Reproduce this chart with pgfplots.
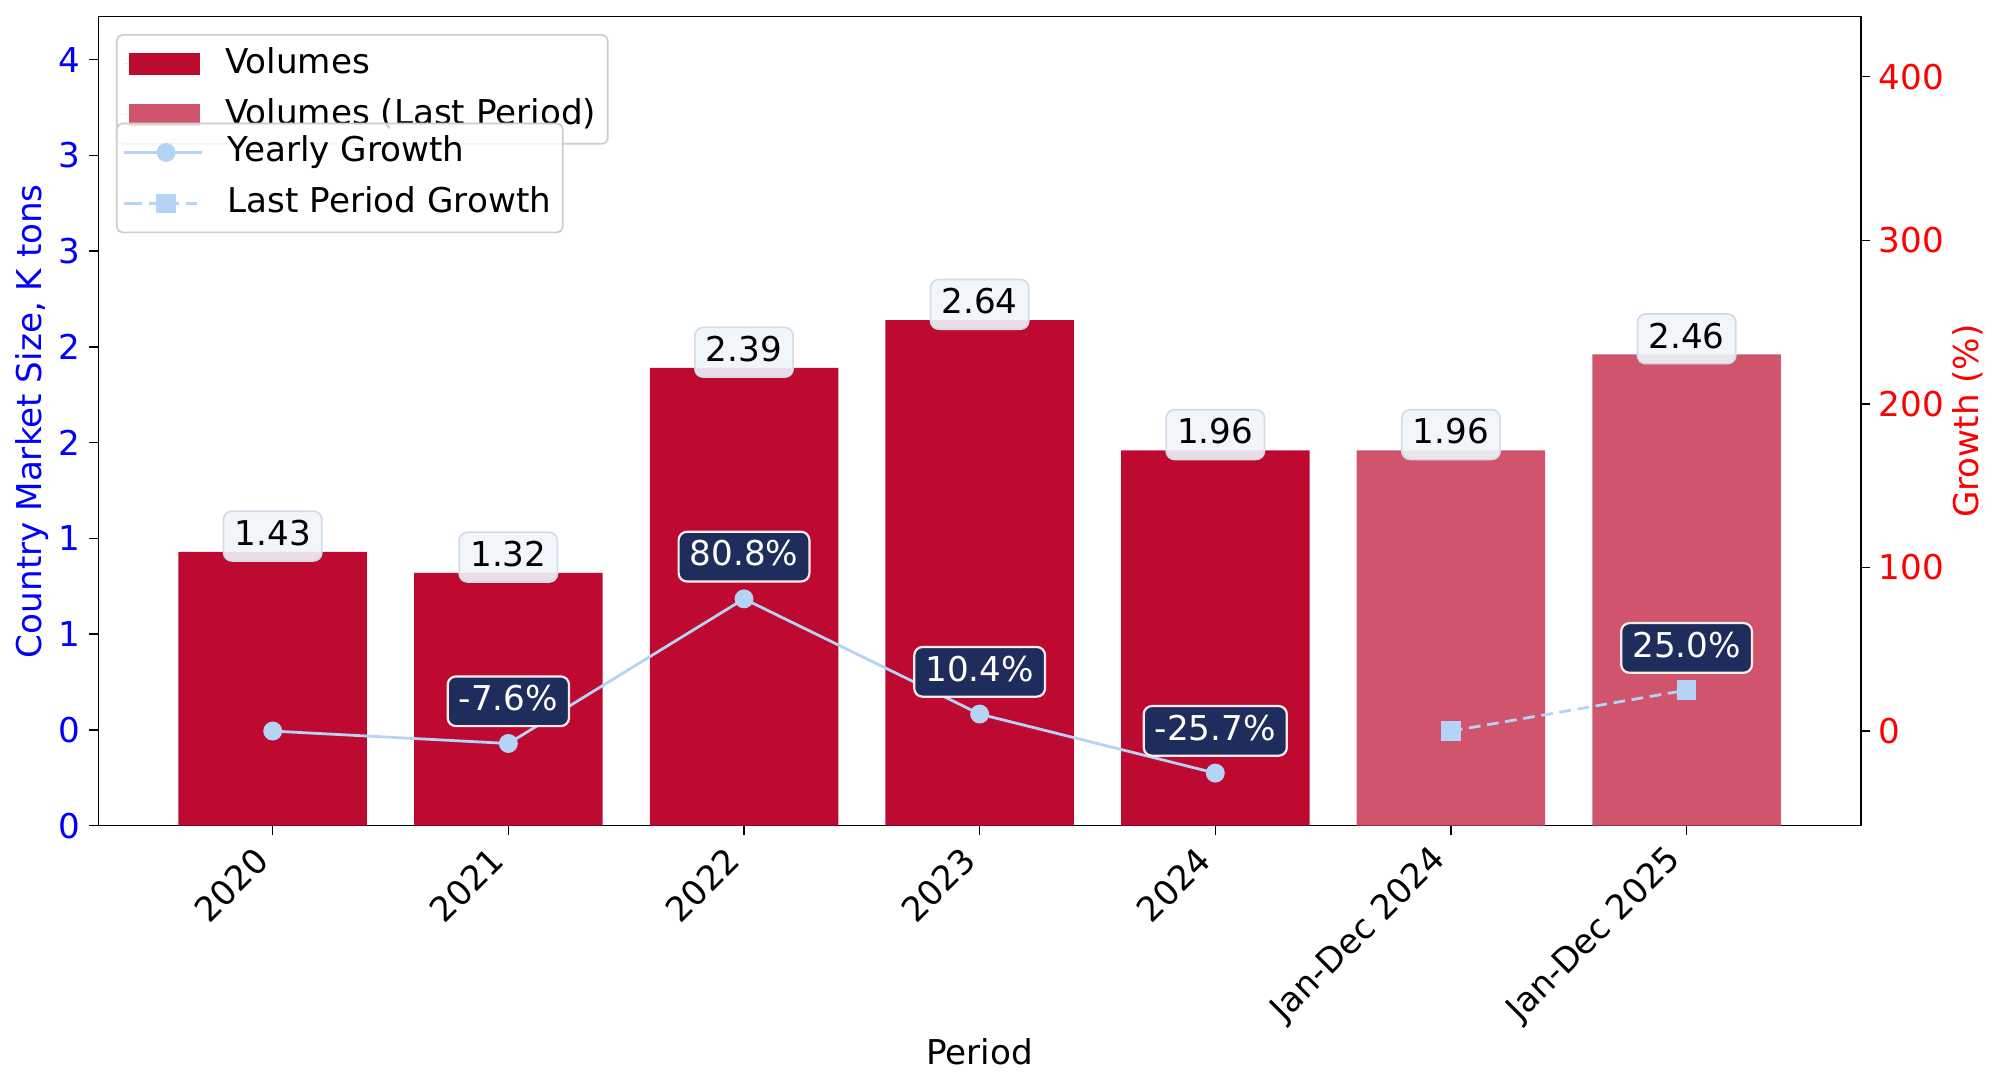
\documentclass[border=0pt]{standalone}
\usepackage{pgfplots}
\pgfplotsset{compat=1.18}
\usepackage{fontspec}
\setmainfont{DejaVu Sans}
\definecolor{vol}{RGB}{190,10,48}
\definecolor{volp}{RGB}{208,84,108}
\definecolor{gline}{RGB}{181,211,245}
\definecolor{navy}{RGB}{31,45,92}
\definecolor{lblfill}{RGB}{239,245,251}
\definecolor{lbldraw}{RGB}{210,220,232}
\newcommand{\fs}{\fontsize{12.3}{14.5}\selectfont}
\tikzset{
  vlabel/.style={anchor=south, yshift=-3.6pt, fill=lblfill, draw=lbldraw, line width=0.6pt, rounded corners=3pt,
    fill opacity=0.9, text opacity=1, text=black, inner xsep=4pt, inner ysep=3.3pt, text height=9pt, text depth=2.3pt, font=\fs},
  glabel/.style={yshift=15.2pt, fill=navy, draw=white!92!red, line width=0.8pt, rounded corners=3pt,
    text=white, inner xsep=4pt, inner ysep=3.3pt, text height=9pt, text depth=2.3pt, font=\fs},
}
\begin{document}
\begin{tikzpicture}[font=\fs]
\useasboundingbox (-35.4pt,-94.1pt) rectangle (686pt,297.2pt);
\pgfplotsset{
  base/.style={
    scale only axis, width=634.5pt, height=291.2pt, at={(0,0)}, anchor=south west,
    xmin=-0.74, xmax=6.74,
    tick align=outside, major tick length=3.2pt,
    axis line style={line width=0.55pt},
    every tick/.style={line width=0.55pt, black},
    /pgf/number format/assume math mode=true,
    tick label style={font=\fs},
    label style={font=\fs},
    legend cell align=left,
    legend style={draw=black!20, line width=0.6pt, rounded corners=2pt, fill=white, fill opacity=0.8, text opacity=1,
      font=\fs, inner xsep=2.2pt, inner ysep=2.8pt, row sep=3pt,
      nodes={text height=9pt, text depth=2.3pt},
      /tikz/every odd column/.append style={column sep=7pt}},
  },
  barleg/.style={legend image code/.code={\path (0pt,0pt) -- (2.3pt,0pt); \fill[sharp corners, ##1, fill opacity=1] (2.3pt,-4pt) rectangle (27.8pt,4pt);}},
  lineleg/.style={legend image code/.code={\path (0pt,0pt) -- (2.3pt,0pt); \draw[sharp corners, mark repeat=2, mark phase=2, ##1, opacity=1, fill opacity=1] plot coordinates {(2.3pt,0pt) (15.05pt,0pt) (27.8pt,0pt)};}},
}
\begin{axis}[base,
  ymin=0, ymax=4.224,
  ytick={0,0.5,1,1.5,2,2.5,3,3.5,4}, yticklabels={0,0,1,1,2,2,3,3,4},
  ytick pos=left, xtick pos=bottom,
  xtick={0,1,2,3,4,5,6}, xticklabels={2020,2021,2022,2023,2024,Jan-Dec 2024,Jan-Dec 2025},
  xticklabel style={xshift=-3.8pt, yshift=-7pt, rotate=45, anchor=east, inner sep=0pt},
  yticklabel style={text=blue, inner sep=3pt},
  ylabel={Country Market Size, K tons},
  ylabel style={text=blue, at={(axis description cs:-0.0375,0.5)}, anchor=center},
  xlabel={Period},
  xlabel style={at={(axis description cs:0.5,-0.2795)}, anchor=center},
  legend style={at={(axis description cs:0.010,0.9785)}, anchor=north west},
  nodes near coords,
  nodes near coords style={vlabel, /pgf/number format/fixed, /pgf/number format/precision=2, /pgf/number format/fixed zerofill},
]
\addplot[ybar, bar width=0.8, bar shift=0pt, fill=vol, draw=none, barleg] coordinates {(0,1.43) (1,1.32) (2,2.39) (3,2.64) (4,1.96)};
\addplot[ybar, bar width=0.8, bar shift=0pt, fill=volp, draw=none, barleg] coordinates {(5,1.96) (6,2.46)};
\legend{Volumes, Volumes (Last Period)}
\end{axis}
\begin{axis}[base,
  ymin=-57.8, ymax=436.7,
  axis x line=none, axis y line*=right,
  tick align=outside,
  ytick={0,100,200,300,400},
  yticklabel style={text=red, inner sep=3pt},
  ylabel={Growth (\%)},
  ylabel style={text=red, at={(axis description cs:1.0607,0.5)}, anchor=center},
  legend style={at={(axis description cs:0.010,0.869)}, anchor=north west},
]
\addplot[gline, line width=1pt, mark=*, mark size=2.9pt, mark options={fill=gline, draw=gline}, lineleg]
  coordinates {(0,0) (1,-7.6) (2,80.8) (3,10.4) (4,-25.7)};
\addplot[gline, line width=1pt, dash pattern=on 4.2pt off 2.4pt, mark=square*, mark size=3pt, mark options={solid, fill=gline, draw=gline}, lineleg]
  coordinates {(5,0) (6,25)};
\legend{Yearly Growth, Last Period Growth}
\node[glabel] at (axis cs:1,-7.6) {-7.6\%};
\node[glabel] at (axis cs:2,80.8) {80.8\%};
\node[glabel] at (axis cs:3,10.4) {10.4\%};
\node[glabel] at (axis cs:4,-25.7) {-25.7\%};
\node[glabel] at (axis cs:6,25) {25.0\%};
\end{axis}
\end{tikzpicture}
\end{document}
